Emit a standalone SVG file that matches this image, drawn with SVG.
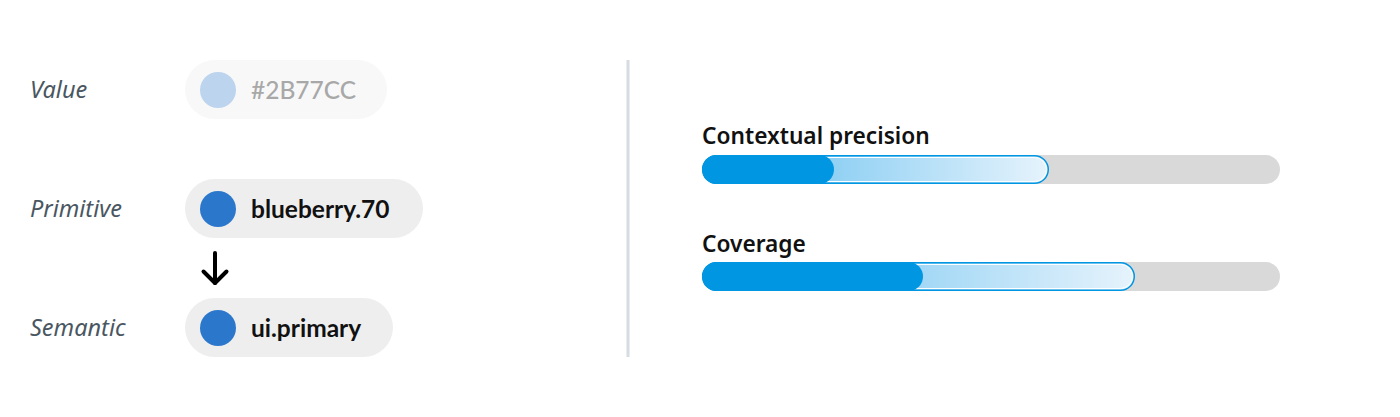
<svg xmlns="http://www.w3.org/2000/svg" width="1400" height="417" viewBox="0 0 1400 417">
<defs>
<style>
.lbl{font-family:"Noto Sans",Lato,sans-serif;font-style:italic;font-size:23.5px;fill:#4a5762}
.tok{font-family:Lato,"Noto Sans",sans-serif;font-weight:700;font-size:24.5px;fill:#111}
.ttl{font-family:"Noto Sans",Lato,sans-serif;font-weight:600;font-size:22.7px;fill:#111}
.track{fill:#d9d9d9}
.solid{fill:#0096e2}
</style>
<linearGradient id="g" x1="0" y1="0" x2="1" y2="0">
<stop offset="0" stop-color="#5ebcef"/>
<stop offset="1" stop-color="#e6f3fc"/>
</linearGradient>
</defs>
<rect width="1400" height="417" fill="#fff"/>
<line x1="628" y1="60" x2="628" y2="357" stroke="#d6dce1" stroke-width="3"/>

<g id="value">
<text class="lbl" x="30" y="98">Value</text>
<rect x="185" y="60" width="202" height="59" rx="29.5" fill="#f8f8f8"/>
<circle cx="218" cy="90" r="18" fill="#bcd4ee"/>
<text class="tok" x="251" y="99" style="font-weight:500;fill:#a8a8a8">#2B77CC</text>
</g>

<g id="primitive">
<text class="lbl" x="30" y="217">Primitive</text>
<rect x="185" y="179" width="238" height="59" rx="29.5" fill="#eeeeee"/>
<circle cx="218" cy="209" r="18" fill="#2b77cc"/>
<text class="tok" x="251" y="218">blueberry.70</text>
</g>

<g id="semantic">
<text class="lbl" x="30" y="336">Semantic</text>
<rect x="185" y="298" width="208" height="59" rx="29.5" fill="#eeeeee"/>
<circle cx="218" cy="328" r="18" fill="#2b77cc"/>
<text class="tok" x="251" y="337">ui.primary</text>
</g>

<g id="connectors" fill="none" stroke="#000" stroke-width="4" stroke-linecap="round" stroke-linejoin="round">
<line x1="215" y1="253" x2="215" y2="283"/>
<polyline points="203.5,271.5 215,283 226.5,271.5"/>
</g>

<g id="contextual-precision">
<text class="ttl" x="702" y="144">Contextual precision</text>
<rect class="track" x="702" y="155" width="578" height="29" rx="14.5"/>
<rect x="702.75" y="155.75" width="345.5" height="27.5" rx="13.75" fill="url(#g)" stroke="#0096e2" stroke-width="1.5"/>
<rect x="704.5" y="157.5" width="342" height="24" rx="12" fill="none" stroke="#fff" stroke-width="1"/>
<rect class="solid" x="702" y="155" width="132" height="29" rx="14.5"/>
</g>

<g id="coverage">
<text class="ttl" x="702" y="252">Coverage</text>
<rect class="track" x="702" y="262" width="578" height="29" rx="14.5"/>
<rect x="702.75" y="262.75" width="431.5" height="27.5" rx="13.75" fill="url(#g)" stroke="#0096e2" stroke-width="1.5"/>
<rect x="704.5" y="264.5" width="428" height="24" rx="12" fill="none" stroke="#fff" stroke-width="1"/>
<rect class="solid" x="702" y="262" width="221" height="29" rx="14.5"/>
</g>
</svg>
